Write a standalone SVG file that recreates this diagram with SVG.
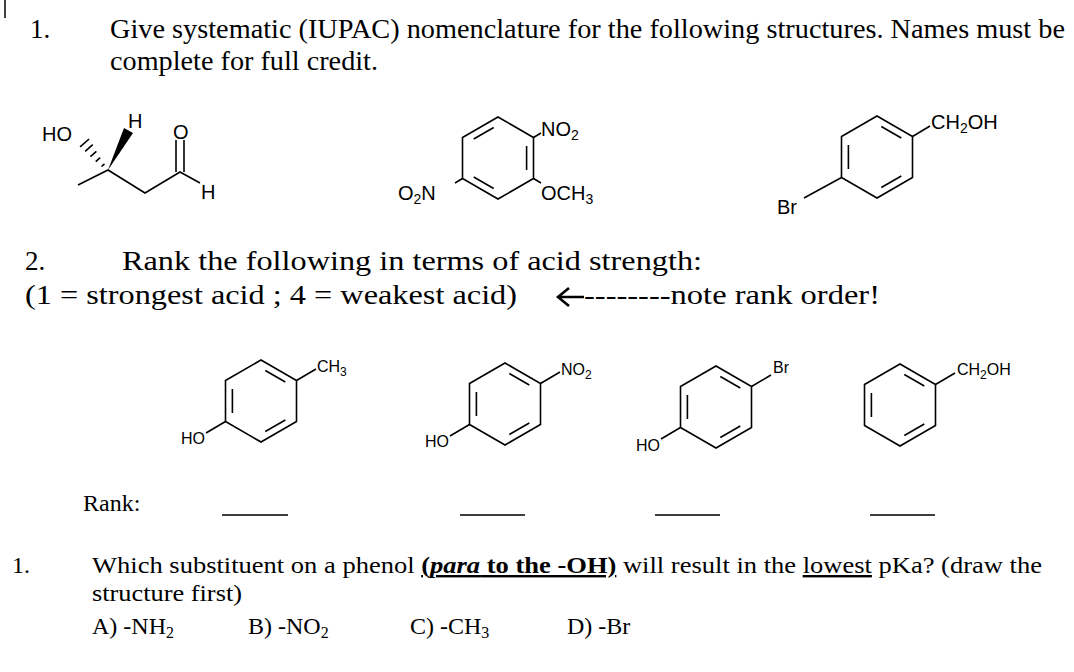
<svg xmlns="http://www.w3.org/2000/svg" width="1074" height="672" viewBox="0 0 1074 672">
<style>
.t{font-family:"Liberation Serif",serif;font-size:27px;fill:#000}
.s{font-family:"Liberation Serif",serif;font-size:24px;fill:#000}
.l{font-family:"Liberation Sans",Arial,sans-serif;font-size:20px;fill:#000}
.m{font-family:"Liberation Sans",Arial,sans-serif;font-size:16px;fill:#000}
.b{stroke:#000;stroke-width:1.6;fill:none}
</style>
<defs>
<g id="ringA" class="b"><polygon points="0,-41 35.5,-20.5 35.5,20.5 0,41 -35.5,20.5 -35.5,-20.5"/><path d="M-28.6,-12V12M4.3,-30.5L24.3,-19M24.3,19L4.3,30.5"/></g>
<g id="ringB" class="b"><polygon points="0,-41 35.5,-20.5 35.5,20.5 0,41 -35.5,20.5 -35.5,-20.5"/><path d="M28.6,-12V12M-24.3,-19L-4.3,-30.5M-24.3,19L-4.3,30.5"/></g>
</defs>
<rect width="1074" height="672" fill="#fff"/>
<line x1="5" y1="0" x2="5" y2="18" stroke="#000" stroke-width="1.5"/>
<g id="q1text">
<text class="t" x="30" y="38">1.</text>
<text class="t" x="110" y="38" textLength="955" lengthAdjust="spacingAndGlyphs">Give systematic (IUPAC) nomenclature for the following structures.  Names must be</text>
<text class="t" x="110" y="70" textLength="268" lengthAdjust="spacingAndGlyphs">complete for full credit.</text>
</g>
<g id="mol1">
<path class="b" d="M78,185L108,170L145,193L180,172L200,183M176,172V140M184,172V140"/>
<polygon points="108,170 124,128 133,133" fill="#000"/>
<path class="b" stroke-width="1.3" d="M101.5,166.5l3,-2.6M95.7,161.6l4.5,-4M90.4,156.6l6,-5.3M85.2,151.3l7.5,-6.6M80.1,146.9l9,-7.9"/>
<text class="l" x="42" y="141">HO</text>
<text class="l" x="128" y="128">H</text>
<text class="l" x="173" y="139">O</text>
<text class="l" x="201" y="199">H</text>
</g>
<g id="mol2">
<use href="#ringB" x="498" y="158"/>
<path class="b" d="M533.5,137.5L541,133M533.5,178.5L541,183M462.5,178.5L455,183"/>
<text class="l" x="541" y="136">NO<tspan font-size="14" dy="4">2</tspan></text>
<text class="l" x="541" y="200">OCH<tspan font-size="14" dy="4">3</tspan></text>
<text class="l" x="398" y="200">O<tspan font-size="14" dy="4">2</tspan><tspan dy="-4">N</tspan></text>
</g>
<g id="mol3">
<use href="#ringA" x="877" y="157"/>
<path class="b" d="M912.5,136.5L930,126M841.5,177.5L804,198"/>
<text class="l" x="931" y="129">CH<tspan font-size="14" dy="4">2</tspan><tspan dy="-4">OH</tspan></text>
<text class="l" x="777" y="214">Br</text>
</g>
<g id="q2text">
<text class="t" x="25" y="270">2.</text>
<text class="t" x="122" y="270" textLength="580" lengthAdjust="spacingAndGlyphs">Rank the following in terms of acid strength:</text>
<text class="t" x="25" y="304" textLength="492" lengthAdjust="spacingAndGlyphs">(1 = strongest acid ; 4 = weakest acid)</text>
<path d="M569,288L558,297L569,306M558,297H584" fill="none" stroke="#000" stroke-width="2.6"/>
<text class="t" x="584" y="304" textLength="296" lengthAdjust="spacingAndGlyphs">--------note rank order!</text>
</g>
<g id="p1">
<use href="#ringA" x="261" y="401"/>
<path class="b" d="M296.5,380.5L316,369M225.5,421.5L206,433"/>
<text class="m" x="317" y="372">CH<tspan font-size="12" dy="4">3</tspan></text>
<text class="m" x="205" y="444" text-anchor="end">HO</text>
</g>
<g id="p2">
<use href="#ringA" x="505" y="404"/>
<path class="b" d="M540.5,383.5L560,372M469.5,424.5L450,436"/>
<text class="m" x="561" y="375">NO<tspan font-size="12" dy="4">2</tspan></text>
<text class="m" x="449" y="447" text-anchor="end">HO</text>
</g>
<g id="p3">
<use href="#ringA" x="716" y="407"/>
<path class="b" d="M751.5,386.5L771,375M680.5,427.5L661,439"/>
<text class="m" x="773" y="373">Br</text>
<text class="m" x="660" y="451" text-anchor="end">HO</text>
</g>
<g id="p4">
<use href="#ringA" x="900" y="405"/>
<path class="b" d="M935.5,384.5L955,373"/>
<text class="m" x="957" y="375">CH<tspan font-size="12" dy="4">2</tspan><tspan dy="-4">OH</tspan></text>
</g>
<g id="rank">
<text class="s" x="83" y="511" font-size="21">Rank:</text>
<path class="b" stroke-width="1.3" d="M222,515H288M460,515H525M655,515H720M870,515H935"/>
</g>
<g id="q3text">
<text class="s" x="12" y="573">1.</text>
<text class="s" x="92" y="573" textLength="950" lengthAdjust="spacingAndGlyphs">Which substituent on a phenol <tspan font-weight="bold" text-decoration="underline">(<tspan font-style="italic">para</tspan> to the -OH)</tspan> will result in the <tspan text-decoration="underline">lowest</tspan> pKa? (draw the</text>
<text class="s" x="92" y="601" textLength="150" lengthAdjust="spacingAndGlyphs">structure first)</text>
<text class="s" x="92" y="634">A)  -NH<tspan font-size="16" dy="4">2</tspan></text>
<text class="s" x="248" y="634">B)  -NO<tspan font-size="16" dy="4">2</tspan></text>
<text class="s" x="410" y="634">C)  -CH<tspan font-size="16" dy="4">3</tspan></text>
<text class="s" x="567" y="634">D)  -Br</text>
</g>
</svg>
